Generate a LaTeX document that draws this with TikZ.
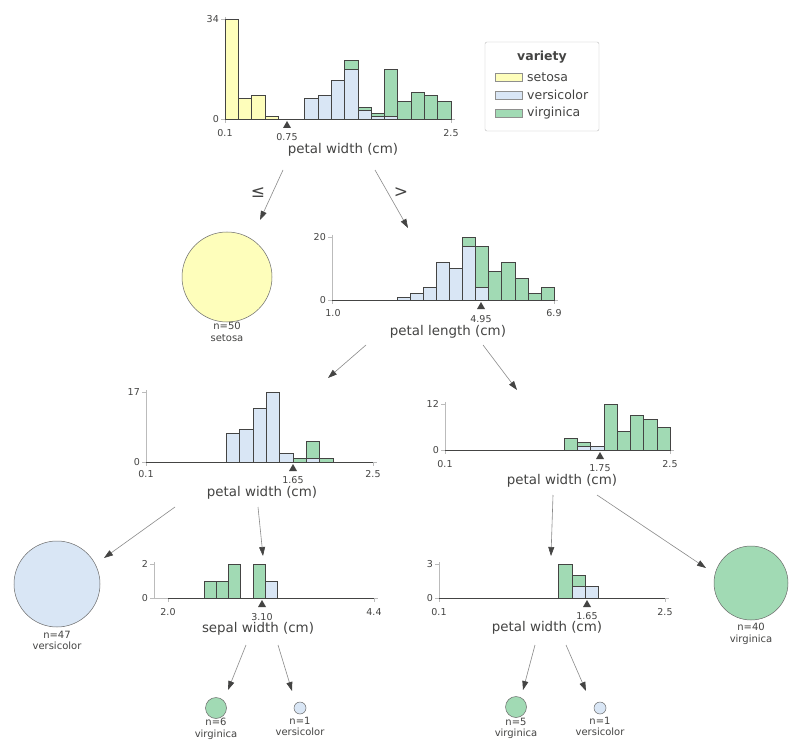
\documentclass[tikz,border=0pt]{standalone}
\usepackage{fontspec}
\setmainfont{DejaVu Sans}
\usetikzlibrary{arrows.meta}

\definecolor{setosacol}{HTML}{FEFEBB}
\definecolor{versicol}{HTML}{D9E6F5}
\definecolor{virgcol}{HTML}{A1DAB4}
\definecolor{textcol}{HTML}{444443}
\definecolor{spinecol}{HTML}{BBBBBB}
\definecolor{edgecol}{HTML}{8A8A8A}

\tikzset{
  bar/.style={draw=textcol, line width=0.6pt},
  spine/.style={draw=spinecol, line width=0.7pt},
  base/.style={draw=textcol, line width=0.8pt},
  ticklbl/.style={text=textcol, font=\fontsize{9.5}{11}\selectfont, inner sep=0pt},
  featlbl/.style={text=textcol, font=\fontsize{13.4}{16}\selectfont, inner sep=0pt},
  leaf/.style={circle, draw=textcol!80, line width=0.5pt, inner sep=0pt},
  leaflbl/.style={text=textcol, font=\fontsize{10}{11.5}\selectfont, align=center, inner sep=0pt},
  edge/.style={draw=edgecol, line width=0.6pt, -{Triangle[length=9pt,width=6pt,color=textcol]}},
}

% stacked bars: #1 left x of bin 1, #2 base y, #3 bin width, #4 px per count, #5 bin/setosa/versicolor/virginica
\newcommand{\histbars}[5]{%
  \foreach \i/\a/\b/\c in {#5}{%
    \pgfmathsetmacro{\xl}{#1+(\i-1)*#3}%
    \pgfmathsetmacro{\xr}{#1+\i*#3}%
    \pgfmathsetmacro{\ya}{#2-\a*#4}%
    \pgfmathsetmacro{\yb}{\ya-\b*#4}%
    \pgfmathsetmacro{\yc}{\yb-\c*#4}%
    \ifnum\a>0 \draw[bar,fill=setosacol] (\xl,#2) rectangle (\xr,\ya);\fi
    \ifnum\b>0 \draw[bar,fill=versicol] (\xl,\ya) rectangle (\xr,\yb);\fi
    \ifnum\c>0 \draw[bar,fill=virgcol] (\xl,\yb) rectangle (\xr,\yc);\fi
  }}

% axes: #1 y-axis x, #2 top tick y, #3 base y, #4 min tick x, #5 max tick x
\newcommand{\histframe}[5]{%
  \draw[spine] (#1,#2-2) -- (#1,#3) -- (#5+4,#3);
  \draw[spine] (#1-4,#2) -- (#1,#2) (#1-4,#3) -- (#1,#3);
  \draw[spine] (#4,#3) -- (#4,#3+4) (#5,#3) -- (#5,#3+4);
  \draw[base] (#4,#3) -- (#5,#3);
}

% split marker
\newcommand{\splitmark}[2]{\fill[textcol] (#1,#2+2) -- (#1-4,#2+9) -- (#1+4,#2+9) -- cycle;}

\begin{document}
\begin{tikzpicture}[x=1pt, y=-1pt]
\fill[white] (0,0) rectangle (800,751);
\useasboundingbox (0,0) rectangle (800,751);

% root: petal width
\histframe{225}{19}{119}{225}{451}
\histbars{225}{119}{13.29}{2.941}{1/34/0/0, 2/7/0/0, 3/8/0/0, 4/1/0/0, 7/0/7/0, 8/0/8/0, 9/0/13/0, 10/0/17/3, 11/0/3/1, 12/0/1/1, 13/0/1/16, 14/0/0/6, 15/0/0/9, 16/0/0/8, 17/0/0/6}
\splitmark{287}{119}
\node[ticklbl, anchor=east] at (219,19) {34};
\node[ticklbl, anchor=east] at (219,119) {0};
\node[ticklbl] at (225,133) {0.1};
\node[ticklbl] at (451,133) {2.5};
\node[ticklbl] at (287,137) {0.75};
\node[featlbl] (pwroot) at (343,150) {petal width (cm)};

% legend
\draw[spinecol, rounded corners=2pt] (485,42) rectangle (599,131);
\node[text=textcol, font=\fontsize{12.5}{14}\selectfont\bfseries] (legtitle) at (542,57) {variety};
\foreach \y/\col/\name in {77/setosacol/setosa, 95/versicol/versicolor, 113/virgcol/virginica}{
  \draw[textcol!60, fill=\col] (495,\y-4) rectangle (522,\y+4);
  \node[text=textcol, font=\fontsize{12.5}{14}\selectfont, anchor=west, inner sep=0pt] at (527,\y) {\name};
}

% setosa leaf
\node[leaf, fill=setosacol, minimum size=90pt] (lsetosa) at (227,277) {};
\node[leaflbl, anchor=north] at (227,322) {n=50\\setosa};

% petal length
\histframe{332}{237}{300}{332}{554}
\histbars{332}{300}{13.06}{3.15}{6/0/1/0, 7/0/2/0, 8/0/4/0, 9/0/12/0, 10/0/10/0, 11/0/17/3, 12/0/4/13, 13/0/0/9, 14/0/0/12, 15/0/0/7, 16/0/0/2, 17/0/0/4}
\splitmark{481}{300}
\node[ticklbl, anchor=east] at (326,237) {20};
\node[ticklbl, anchor=east] at (326,300) {0};
\node[ticklbl] at (333,313) {1.0};
\node[ticklbl] at (554,313) {6.9};
\node[ticklbl] at (481,319) {4.95};
\node[featlbl] (plen) at (448,332) {petal length (cm)};

% petal width, left
\histframe{146}{392}{462}{146}{373}
\histbars{146}{462}{13.35}{4.118}{7/0/7/0, 8/0/8/0, 9/0/13/0, 10/0/17/0, 11/0/2/0, 12/0/0/1, 13/0/1/4, 14/0/0/1}
\splitmark{293}{462}
\node[ticklbl, anchor=east] at (140,392) {17};
\node[ticklbl, anchor=east] at (140,462) {0};
\node[ticklbl] at (146,474) {0.1};
\node[ticklbl] at (373,474) {2.5};
\node[ticklbl] at (293,480) {1.65};
\node[featlbl] (pwleft) at (262,493) {petal width (cm)};

% petal width, right
\histframe{445}{404}{450}{445}{670}
\histbars{445}{450}{13.24}{3.833}{10/0/0/3, 11/0/1/1, 12/0/1/0, 13/0/0/12, 14/0/0/5, 15/0/0/9, 16/0/0/8, 17/0/0/6}
\splitmark{600}{450}
\node[ticklbl, anchor=east] at (439,404) {12};
\node[ticklbl, anchor=east] at (439,450) {0};
\node[ticklbl] at (445,464) {0.1};
\node[ticklbl] at (670,464) {2.5};
\node[ticklbl] at (600,468) {1.75};
\node[featlbl] (pwright) at (562,481) {petal width (cm)};

% versicolor / virginica leaves
\node[leaf, fill=versicol, minimum size=86pt] (lvers) at (57,584) {};
\node[leaflbl, anchor=north] at (57,631) {n=47\\versicolor};
\node[leaf, fill=virgcol, minimum size=74pt] (lvirg) at (751,583) {};
\node[leaflbl, anchor=north] at (751,623) {n=40\\virginica};

% sepal width
\histframe{154}{564}{598}{168}{374}
\histbars{168}{598}{12.12}{17}{4/0/0/1, 5/0/0/1, 6/0/0/2, 8/0/0/2, 9/0/1/0}
\splitmark{262}{598}
\node[ticklbl, anchor=east] at (148,564) {2};
\node[ticklbl, anchor=east] at (148,598) {0};
\node[ticklbl] at (168,612) {2.0};
\node[ticklbl] at (374,612) {4.4};
\node[ticklbl] at (262,617) {3.10};
\node[featlbl] (swid) at (258,629) {sepal width (cm)};

% petal width, bottom
\histframe{439}{564}{598}{439}{665}
\histbars{439}{598}{13.29}{11.33}{10/0/0/3, 11/0/1/1, 12/0/1/0}
\splitmark{587}{598}
\node[ticklbl, anchor=east] at (433,564) {3};
\node[ticklbl, anchor=east] at (433,598) {0};
\node[ticklbl] at (439,612) {0.1};
\node[ticklbl] at (665,612) {2.5};
\node[ticklbl] at (587,616) {1.65};
\node[featlbl] (pwbot) at (547,628) {petal width (cm)};

% small leaves
\node[leaf, fill=virgcol, minimum size=21pt] (lsw1) at (216,708) {};
\node[leaflbl, anchor=north] at (216,718) {n=6\\virginica};
\node[leaf, fill=versicol, minimum size=12pt] (lsw2) at (300,708) {};
\node[leaflbl, anchor=north] at (300,717) {n=1\\versicolor};
\node[leaf, fill=virgcol, minimum size=21pt] (lpw1) at (516,707) {};
\node[leaflbl, anchor=north] at (516,718) {n=5\\virginica};
\node[leaf, fill=versicol, minimum size=12pt] (lpw2) at (600,708) {};
\node[leaflbl, anchor=north] at (600,717) {n=1\\versicolor};

% edge ends
\coordinate (a1) at (283,170); \coordinate (b1) at (260,220);
\coordinate (a2) at (375,170); \coordinate (b2) at (408,228);
\coordinate (a3) at (366,345); \coordinate (b3) at (328,378);
\coordinate (a4) at (483,345); \coordinate (b4) at (517,390);
\coordinate (a5) at (175,507); \coordinate (b5) at (104,558);
\coordinate (a6) at (258,507); \coordinate (b6) at (263,556);
\coordinate (a7) at (553,495); \coordinate (b7) at (551,556);
\coordinate (a8) at (597,495); \coordinate (b8) at (706,568);
\coordinate (a9) at (246,645); \coordinate (b9) at (228,690);
\coordinate (a10) at (278,645); \coordinate (b10) at (292,691);
\coordinate (a11) at (535,645); \coordinate (b11) at (523,690);
\coordinate (a12) at (566,645); \coordinate (b12) at (586,691);

\draw[edge] (a1) -- (b1);
\draw[edge] (a2) -- (b2);
\draw[edge] (a3) -- (b3);
\draw[edge] (a4) -- (b4);
\draw[edge] (a5) -- (b5);
\draw[edge] (a6) -- (b6);
\draw[edge] (a7) -- (b7);
\draw[edge] (a8) -- (b8);
\draw[edge] (a9) -- (b9);
\draw[edge] (a10) -- (b10);
\draw[edge] (a11) -- (b11);
\draw[edge] (a12) -- (b12);

\node[text=textcol, font=\fontsize{17}{19}\selectfont] (le) at (258,193) {≤};
\node[text=textcol, font=\fontsize{17}{19}\selectfont] (gt) at (401,193) {>};
\end{tikzpicture}
\end{document}
